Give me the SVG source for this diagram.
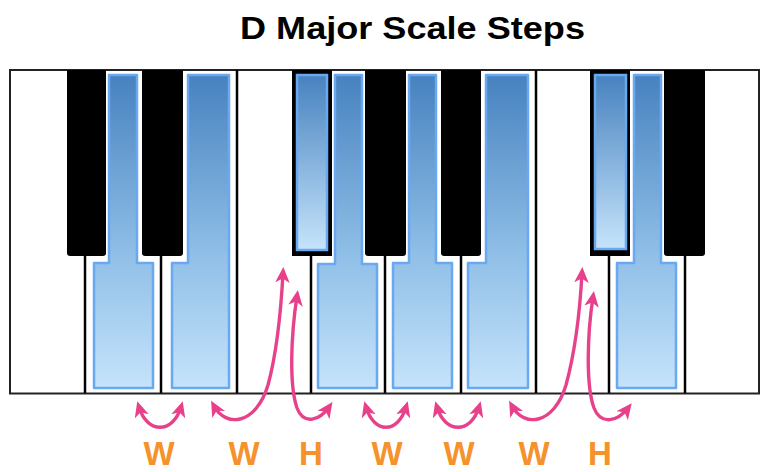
<svg xmlns="http://www.w3.org/2000/svg" width="768" height="472" viewBox="0 0 768 472">
<defs>
<linearGradient id="hlw" gradientUnits="userSpaceOnUse" x1="0" y1="75" x2="0" y2="390">
<stop offset="0" stop-color="#4782bf"/>
<stop offset="0.55" stop-color="#8dbde6"/>
<stop offset="1" stop-color="#c6e4fb"/>
</linearGradient>
<linearGradient id="hlb" x1="0" y1="0" x2="0" y2="1">
<stop offset="0" stop-color="#4782bf"/>
<stop offset="1" stop-color="#c6e4fb"/>
</linearGradient>
<marker id="ah" viewBox="0 0 14 14" refX="8" refY="7" markerWidth="17" markerHeight="17" markerUnits="userSpaceOnUse" orient="auto-start-reverse">
<path d="M0,1 L13,7 L0,13 L3.5,7 Z" fill="#e8418b"/>
</marker>
</defs>
<style>
.title{font-family:"Liberation Sans",Arial,sans-serif;font-weight:bold;font-size:31px;fill:#000}
.lbl{font-family:"Liberation Sans",Arial,sans-serif;font-weight:bold;font-size:33px;fill:#f5922b;text-anchor:middle}
.div{stroke:#000;stroke-width:2.5}
.blk{fill:#000}
.hl{fill:url(#hlw);stroke:#6aa9f2;stroke-width:2.5;stroke-linejoin:round}
.hlb{fill:url(#hlb);stroke:#6aa9f2;stroke-width:2.5}
.arr{fill:none;stroke:#e8418b;stroke-width:3.4;marker-start:url(#ah);marker-end:url(#ah)}
</style>
<rect width="768" height="472" fill="#fff"/>
<text class="title" x="240" y="39" textLength="345" lengthAdjust="spacingAndGlyphs">D Major Scale Steps</text>

<g id="keyboard">
<rect x="10" y="70" width="749" height="323.5" fill="#fff" stroke="#222" stroke-width="2"/>
<line class="div" x1="85" y1="250" x2="85" y2="393"/>
<line class="div" x1="161" y1="250" x2="161" y2="393"/>
<line class="div" x1="237" y1="70" x2="237" y2="393"/>
<line class="div" x1="311" y1="250" x2="311" y2="393"/>
<line class="div" x1="385" y1="250" x2="385" y2="393"/>
<line class="div" x1="461" y1="250" x2="461" y2="393"/>
<line class="div" x1="536" y1="70" x2="536" y2="393"/>
<line class="div" x1="609" y1="250" x2="609" y2="393"/>
<line class="div" x1="685" y1="250" x2="685" y2="393"/>
</g>

<g id="key-D">
<path class="hl" d="M109,75 H137 V263 H153 V388 H94 V263 H109 Z"/>
</g>
<g id="key-E">
<path class="hl" d="M188,75 H229 V388 H172 V263 H188 Z"/>
</g>
<g id="key-G">
<path class="hl" d="M335,75 H362 V264 H377 V388 H318 V264 H335 Z"/>
</g>
<g id="key-A">
<path class="hl" d="M409,75 H436 V263 H452 V388 H393 V263 H409 Z"/>
</g>
<g id="key-B">
<path class="hl" d="M486,75 H528 V388 H468 V263 H486 Z"/>
</g>
<g id="key-D2">
<path class="hl" d="M634,75 H661 V263 H676 V388 H617 V263 H634 Z"/>
</g>

<g id="black-keys">
<path class="blk" d="M67,70 H106 V253 Q106,256 103,256 H70 Q67,256 67,253 Z"/>
<path class="blk" d="M142,70 H183 V253 Q183,256 180,256 H145 Q142,256 142,253 Z"/>
<path class="blk" d="M365,70 H406 V253 Q406,256 403,256 H368 Q365,256 365,253 Z"/>
<path class="blk" d="M441,70 H481 V253 Q481,256 478,256 H444 Q441,256 441,253 Z"/>
<path class="blk" d="M664,70 H705 V253 Q705,256 702,256 H667 Q664,256 664,253 Z"/>
</g>
<g id="key-Fsharp">
<rect class="blk" x="292" y="70" width="40" height="186"/>
<rect class="hlb" x="297" y="75" width="30" height="175"/>
</g>
<g id="key-Csharp">
<rect class="blk" x="590" y="70" width="40" height="186"/>
<rect class="hlb" x="595" y="75" width="31" height="174"/>
</g>

<g id="connectors">
<path class="arr" d="M139,407 C147,434 173,434 181,407"/>
<path class="arr" d="M214,406 C226,428 256,425 268,385 C277,352 281,310 283,273"/>
<path class="arr" d="M297,296 C291,335 289,385 297,408 C304,426 320,420 329,407"/>
<path class="arr" d="M366,407 C374,434 398,434 406,407"/>
<path class="arr" d="M437,407 C445,434 471,434 479,407"/>
<path class="arr" d="M512,406 C524,428 554,425 566,385 C575,352 580,310 582,273"/>
<path class="arr" d="M593,297 C587,336 586,386 594,408 C601,426 618,421 628,408"/>
</g>

<g id="labels">
<text class="lbl" x="159" y="465">W</text>
<text class="lbl" x="244" y="465">W</text>
<text class="lbl" x="311" y="465">H</text>
<text class="lbl" x="387" y="465">W</text>
<text class="lbl" x="459" y="465">W</text>
<text class="lbl" x="534" y="465">W</text>
<text class="lbl" x="600" y="465">H</text>
</g>
</svg>
